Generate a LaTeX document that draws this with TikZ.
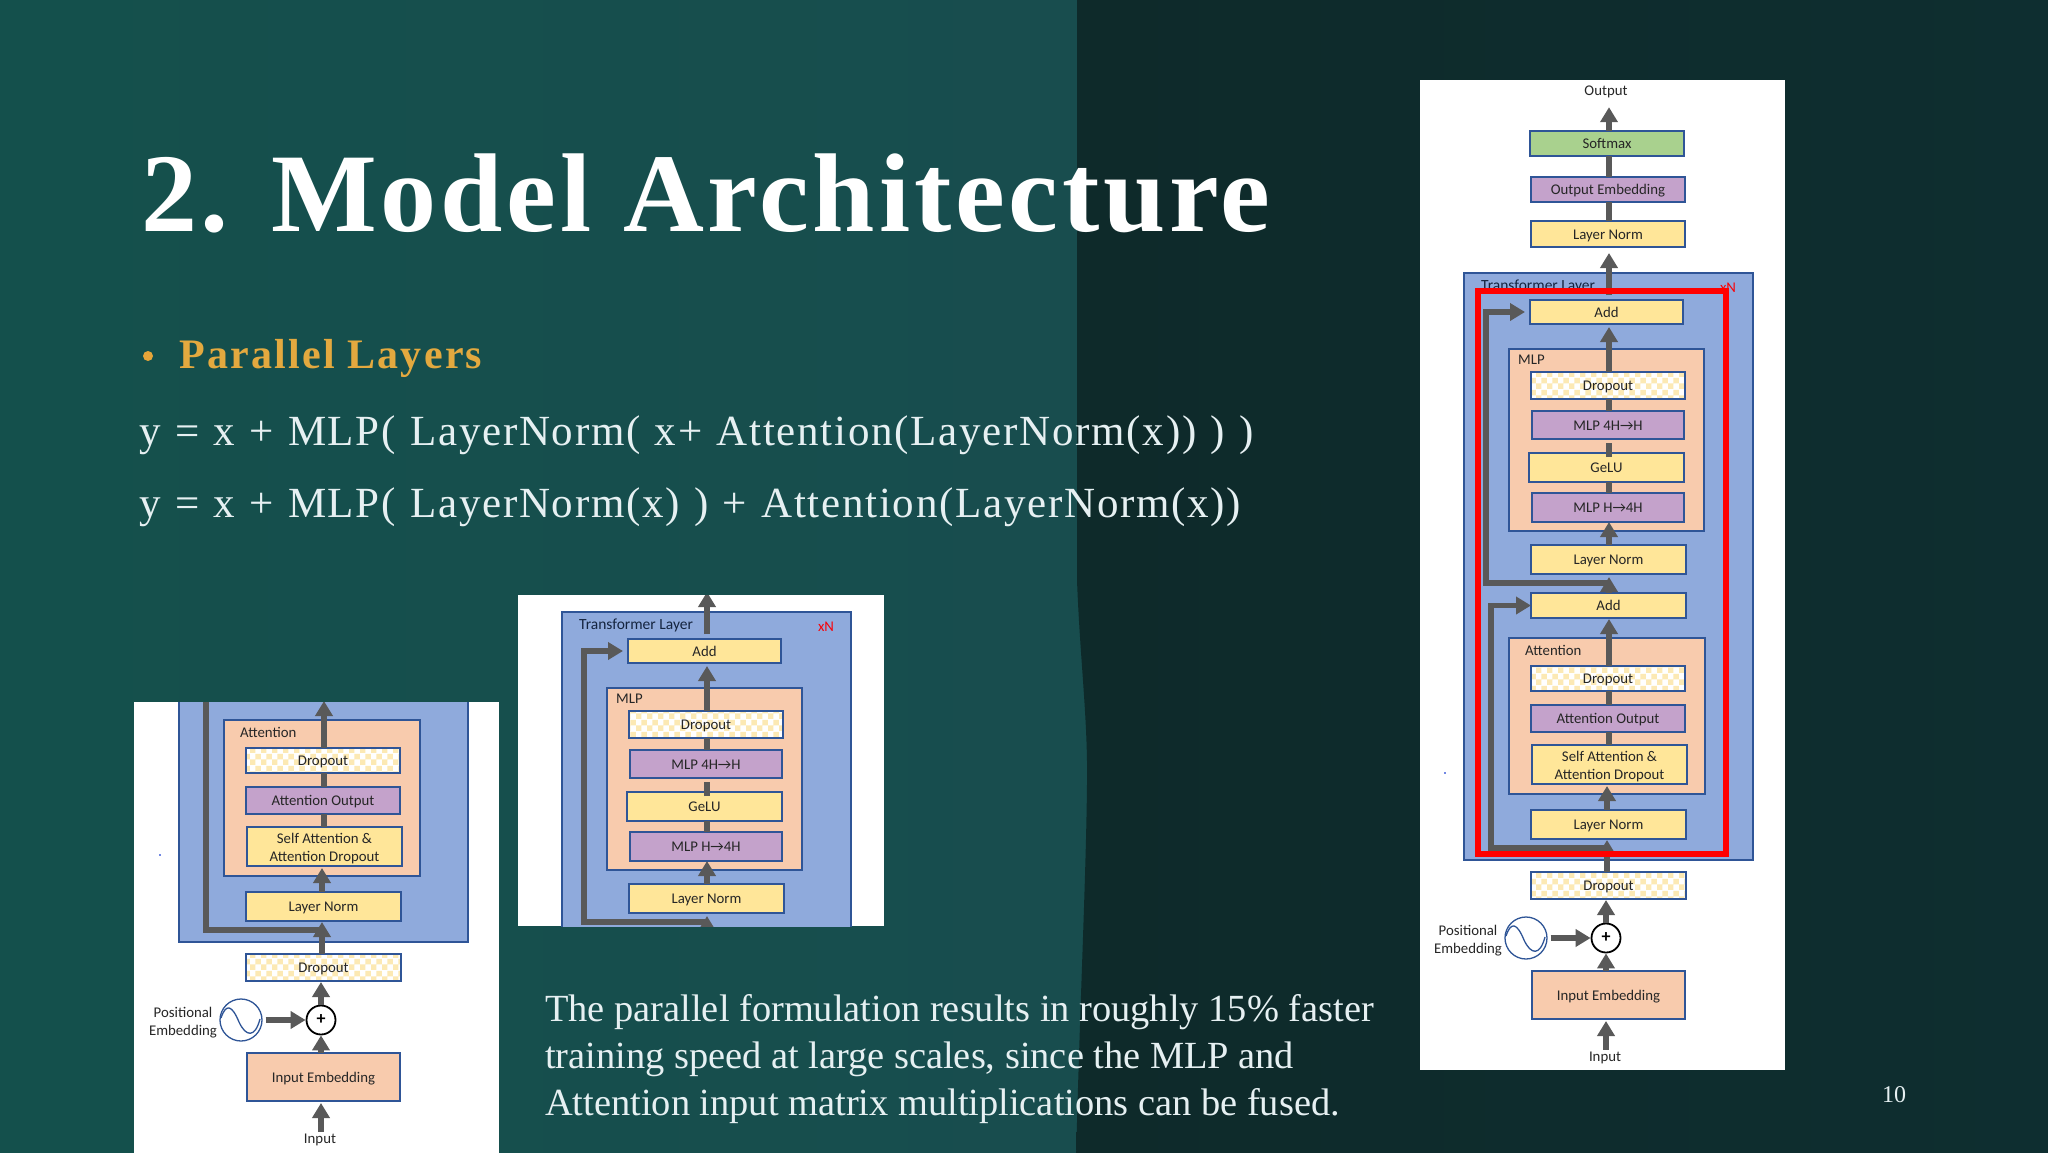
\documentclass[tikz,border=0pt]{standalone}
\usepackage{fontspec}
\usetikzlibrary{arrows.meta,patterns,calc}
\setmainfont{Liberation Serif}
\newfontfamily\titlefont[LetterSpace=3.4]{Liberation Serif}
\newfontfamily\subfont[LetterSpace=5.3]{Liberation Serif}
\newfontfamily\eqfont[LetterSpace=4,WordSpace=1.15]{Liberation Serif}
\newfontfamily\diagfont{Carlito}
\definecolor{bgL}{HTML}{14504C}
\definecolor{bgM}{HTML}{184D4E}
\definecolor{bgD}{HTML}{0E2A2A}
\definecolor{bgR}{HTML}{0E2E30}
\definecolor{edge}{HTML}{2F5597}
\definecolor{cyel}{HTML}{FFE699}
\definecolor{cpur}{HTML}{C4A2CB}
\definecolor{cora}{HTML}{F8CBAD}
\definecolor{cblu}{HTML}{8FAADC}
\definecolor{cgrn}{HTML}{A9D18E}
\definecolor{cdot}{HTML}{FCE9B4}
\definecolor{flowc}{HTML}{595959}
\definecolor{inkc}{HTML}{262626}
\definecolor{gold}{HTML}{E3A93F}
\definecolor{pale}{HTML}{E6F0F2}
\tikzset{
  x=1pt,y=-1pt,
  boxcore/.style={draw=edge,line width=1.4pt,inner sep=0pt,outer sep=0pt,text=inkc,align=center,
    font=\diagfont\fontsize{14.8}{18}\selectfont},
  boxbase/.style={boxcore,text height=11.4pt,text depth=1pt},
  yelbox/.style={boxbase,fill=cyel},
  purbox/.style={boxbase,fill=cpur},
  orabox/.style={boxbase,fill=cora},
  grnbox/.style={boxbase,fill=cgrn},
  blubox/.style={boxbase,fill=cblu},
  selfbox/.style={boxcore,fill=cyel},
  dropbox/.style={boxbase,preaction={fill=white},pattern=checkerboard,pattern color=cdot},
  lab/.style={inner sep=0pt,text=inkc,align=center,font=\diagfont\fontsize{14.8}{18}\selectfont},
  flow/.style={draw=flowc,line width=5.4pt},
  flowa/.style={flow,-{Triangle[width=17pt,length=15pt]}},
  bodytext/.style={inner sep=0pt,anchor=base west,text=pale,font=\eqfont\fontsize{43}{47}\selectfont},
  notetext/.style={inner sep=0pt,anchor=base west,text=pale,font=\fontsize{38.4}{47}\selectfont},
}
\newcommand\bx[7]{%
  \pgfmathsetmacro\bw{#4-#2}\pgfmathsetmacro\bh{#5-#3}%
  \node[#6,minimum width=\bw pt,minimum height=\bh pt] (#1) at ({(#2+#4)/2},{(#3+#5)/2}) {#7};}
% #1 name prefix
\newcommand\archfig[1]{%
  \coordinate (#1ax) at (1609,0);
  \coordinate (#1bx) at (1607,0);
  \coordinate (#1cx) at (1606,0);
  \coordinate (#1jup) at (1609,583);
  \coordinate (#1jlo) at (1607,848);
  \node[lab,minimum height=30pt] (#1out) at (1606,92) {Output};
  \bx{#1soft}{1530}{131}{1684}{156}{grnbox}{Softmax}
  \bx{#1oemb}{1531}{177}{1685}{202}{purbox}{Output Embedding}
  \bx{#1ln}{1531}{221}{1685}{247}{yelbox}{Layer Norm}
  \bx{#1tl}{1464}{273}{1753}{860}{blubox}{}
  \node[anchor=west,inner sep=0pt,text=black!40!edge!70!black,font=\diagfont\fontsize{15.5}{18}\selectfont] (#1tllab) at (1481,286) {Transformer Layer};
  \node[anchor=center,inner sep=0pt,text=red!90!purple,font=\diagfont\fontsize{14.8}{18}\selectfont] (#1xn) at (1728,288) {xN};
  \bx{#1add}{1530}{300}{1683}{324}{yelbox}{Add}
  \bx{#1mlp}{1509}{349}{1704}{531}{orabox}{}
  \node[lab,anchor=west] (#1mlplab) at (1518,360) {MLP};
  \bx{#1mdo}{1531}{372}{1685}{399}{dropbox}{Dropout}
  \bx{#1mu}{1532}{411}{1684}{439}{purbox}{MLP 4H→H}
  \bx{#1gelu}{1529}{453}{1684}{482}{yelbox}{GeLU}
  \bx{#1md}{1532}{493}{1684}{522}{purbox}{MLP H→4H}
  \bx{#1lnb}{1531}{545}{1686}{574}{yelbox}{Layer Norm}
  \bx{#1addb}{1531}{593}{1686}{618}{yelbox}{Add}
  \bx{#1att}{1509}{638}{1705}{794}{orabox}{}
  \node[lab,anchor=west] (#1attlab) at (1525,650) {Attention};
  \bx{#1ado}{1531}{666}{1685}{691}{dropbox}{Dropout}
  \bx{#1aout}{1531}{705}{1685}{732}{purbox}{Attention Output}
  \bx{#1self}{1532}{745}{1687}{784}{selfbox}{\rule{0pt}{14pt}Self Attention \&\\Attention Dropout}
  \bx{#1lnc}{1531}{810}{1686}{839}{yelbox}{Layer Norm}
  \bx{#1do}{1531}{872}{1686}{899}{dropbox}{Dropout}
  \node[circle,draw=black,line width=1.8pt,fill=white,minimum size=29pt,inner sep=0pt,font=\bfseries\diagfont\fontsize{18}{18}\selectfont] (#1plus) at (1606,938) {+};
  \node[circle,draw=edge,line width=1.3pt,minimum size=42pt,inner sep=0pt] (#1sine) at (1526,938) {};
  \draw[edge,line width=1.3pt] ($(#1sine)+(-20,-2)$) .. controls ($(#1sine)+(-15,-17)$) and ($(#1sine)+(-9,-15)$) .. ($(#1sine)+(-2,2)$)
     .. controls ($(#1sine)+(5,17)$) and ($(#1sine)+(14,18)$) .. ($(#1sine)+(19,-1)$);
  \node[lab] (#1pos) at (1468,941) {Positional\\Embedding};
  \bx{#1iemb}{1532}{971}{1685}{1019}{orabox}{Input Embedding}
  \node[lab] (#1in) at (1605,1058) {Input};
  \fill[cblu!80!blue] (1444,772) rectangle (1446,774);
  % connectors
  \draw[flowa] (#1soft.north -| #1ax) -- (#1out.south -| #1ax);
  \draw[flow] (#1oemb.north -| #1ax) -- (#1soft.south -| #1ax);
  \draw[flow] (#1ln.north -| #1ax) -- (#1oemb.south -| #1ax);
  \draw[flowa] ([yshift=5pt]#1add.north -| #1ax) -- ([yshift=-6pt]#1ln.south -| #1ax);
  \draw[flowa] (#1mdo.north -| #1ax) -- ([yshift=-3pt]#1add.south -| #1ax);
  \draw[flow] (#1mu.north -| #1ax) -- (#1mdo.south -| #1ax);
  \draw[flow] ([yshift=-4pt]#1gelu.north -| #1ax) -- ([yshift=-4pt]#1mu.south -| #1ax);
  \draw[flow] (#1md.north -| #1ax) -- (#1gelu.south -| #1ax);
  \draw[flowa] (#1lnb.north -| #1ax) -- (#1md.south -| #1ax);
  \draw[flowa] (#1addb.north -| #1ax) -- ([yshift=-3pt]#1lnb.south -| #1ax);
  \draw[flowa] (#1jup) -- (1486,583) -- (1486,0 |- #1add.west) -- ([xshift=-5pt]#1add.west);
  \draw[flowa] (#1ado.north -| #1ax) -- ([yshift=-1pt]#1addb.south -| #1ax);
  \draw[flow] (#1aout.north -| #1ax) -- (#1ado.south -| #1ax);
  \draw[flow] (#1self.north -| #1ax) -- (#1aout.south -| #1ax);
  \draw[flowa] (#1lnc.north -| #1bx) -- ([yshift=-2pt]#1self.south -| #1bx);
  \draw[flowa] (#1do.north -| #1bx) -- ([yshift=-1pt]#1lnc.south -| #1bx);
  \draw[flowa] (#1jlo) -- (1491,848) -- (1491,0 |- #1addb.west) -- (#1addb.west);
  \draw[flowa] (#1plus.north -| #1cx) -- ([yshift=-1pt]#1do.south -| #1cx);
  \draw[flowa] (#1iemb.north -| #1cx) -- (#1plus.south -| #1cx);
  \draw[flowa] ([xshift=3pt]#1sine.east) -- (#1plus.west);
  \draw[flowa] ([yshift=2pt]#1in.north -| #1cx) -- ([yshift=-2pt]#1iemb.south -| #1cx);
}
\begin{document}
\begin{tikzpicture}
\useasboundingbox (0,0) rectangle (2048,1152);
% background
\shade[left color=bgL,right color=bgM] (-5,-5) rectangle (1090,1160);
\shade[left color=bgD,right color=bgR]
  (1077,-5) -- (1077,580) .. controls (1080,660) and (1088,720) .. (1087,784)
  .. controls (1086,880) and (1080,1000) .. (1076,1160) -- (2056,1160) -- (2056,-5) -- cycle;
% title and text
\node[anchor=base west,inner sep=0pt,text=white,font=\titlefont\bfseries\fontsize{112}{112}\selectfont] (title) at (141,231) {2. Model Architecture};
\fill[gold!90!orange] (148,356) circle (5);
\node[anchor=base west,inner sep=0pt,text=gold,font=\subfont\bfseries\fontsize{42}{42}\selectfont] (sub) at (179,368) {Parallel Layers};
\node[bodytext] (eqa) at (139,445) {y = x + MLP( LayerNorm( x+ Attention(LayerNorm(x)) ) )};
\node[bodytext] (eqb) at (139,517) {y = x + MLP( LayerNorm(x) ) + Attention(LayerNorm(x))};
\node[notetext] (ta) at (545,1021) {The parallel formulation results in roughly 15\% faster};
\node[notetext] (tb) at (545,1068) {training speed at large scales, since the MLP and};
\node[notetext] (tc) at (545,1115) {Attention input matrix multiplications can be fused.};
\node[anchor=center,inner sep=0pt,text=pale,font=\fontsize{24}{24}\selectfont] (pg) at (1894,1095) {10};
% right panel
\fill[white] (1420,80) rectangle (1785,1070);
\archfig{r}
\node[draw=red,line width=6pt,minimum width=247.5pt,minimum height=563pt,inner sep=0pt,outer sep=0pt] (rframe) at (1601.75,572) {};
% middle panel
\fill[white] (518,595) rectangle (884,926);
\begin{scope}
  \clip (518,595) rectangle (884,926);
  \begin{scope}[shift={(-902,339)}]
    \archfig{m}
  \end{scope}
\end{scope}
% left panel
\fill[white] (134,702) rectangle (499,1160);
\begin{scope}
  \clip (134,702) rectangle (499,1160);
  \begin{scope}[shift={(-1285,82)}]
    \archfig{l}
  \end{scope}
\end{scope}
\end{tikzpicture}
\end{document}
